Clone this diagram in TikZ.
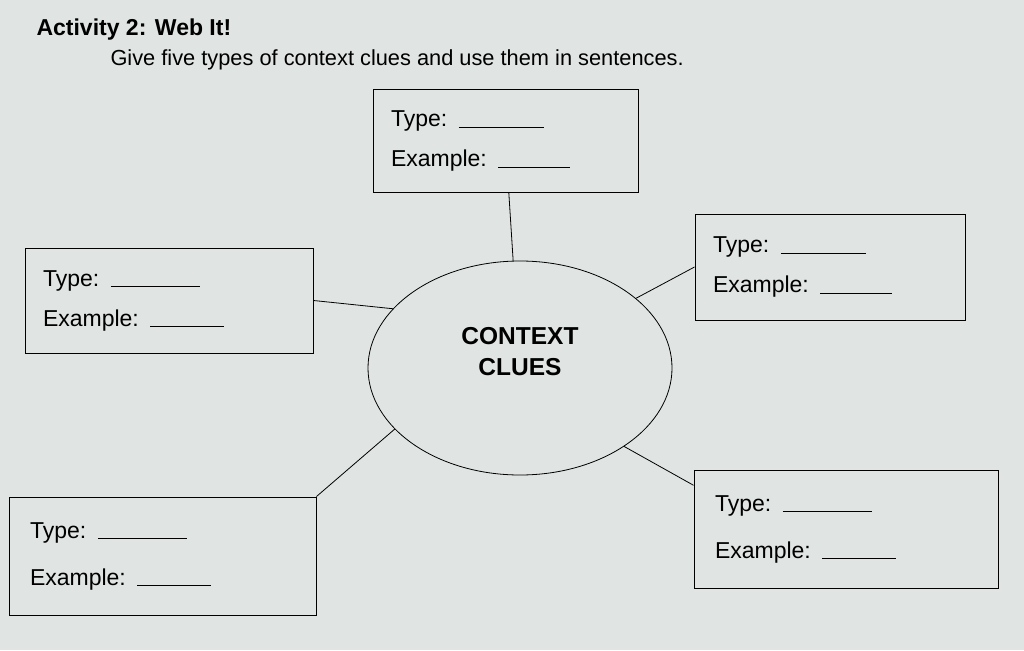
\documentclass[tikz,border=0pt]{standalone}
\usepackage{fontspec}
\setmainfont{Liberation Sans}
\usetikzlibrary{shapes.geometric}
\definecolor{paper}{RGB}{224,228,226}
\newcommand{\blank}[1]{\rule[-1pt]{#1pt}{1pt}}

\begin{document}
\begin{tikzpicture}[x=1pt,y=-1pt,
  cbox/.style={draw,line width=1pt,align=left,inner xsep=18pt,
    font=\fontsize{23}{30}\selectfont},
  hub/.style={draw,ellipse,line width=0.8pt,
    minimum width=304pt,minimum height=214pt}]
\fill[paper] (0,0) rectangle (1024,650);
\useasboundingbox (0,0) rectangle (1024,650);
% heading
\node[anchor=base west,font=\fontsize{23}{28}\selectfont\bfseries] (title) at (33,36) {Activity 2: Web It!};
\node[anchor=base west,font=\fontsize{21.8}{26}\selectfont] (task) at (107,66) {Give five types of context clues and use them in sentences.};
% centre
\node[hub] (hub) at (520,368) {};
\node[align=center,font=\fontsize{24.5}{31}\selectfont\bfseries] (hubtext) at ([yshift=16pt]hub.center) {CONTEXT\\CLUES};
% boxes
\node[cbox,minimum width=265pt,minimum height=102pt,text width=229pt] (tbox) at (505.5,141)
  {Type: \blank{85}\\[10pt]Example: \blank{72}};
\node[cbox,minimum width=270pt,minimum height=106pt,text width=234pt] (rbox) at (830,267)
  {Type: \blank{85}\\[10pt]Example: \blank{72}};
\node[cbox,minimum width=288pt,minimum height=105pt,text width=252pt] (lbox) at (169,300.5)
  {Type: \blank{89}\\[10pt]Example: \blank{74}};
\node[cbox,minimum width=301pt,minimum height=118pt,text width=265pt,inner xsep=21pt] (blbox) at (162.5,556)
  {Type: \blank{89}\\[17pt]Example: \blank{74}};
\node[cbox,minimum width=298pt,minimum height=118pt,text width=262pt,inner xsep=21pt] (brbox) at (846,529)
  {Type: \blank{89}\\[17pt]Example: \blank{74}};
% spokes
\path[-,line width=0.8pt]
(tbox) edge (hub)
(lbox.east) edge (hub.155)
(rbox.west) edge (hub.31)
(blbox.north east) edge (hub.206)
(brbox.164) edge (hub.323);
\end{tikzpicture}
\end{document}
